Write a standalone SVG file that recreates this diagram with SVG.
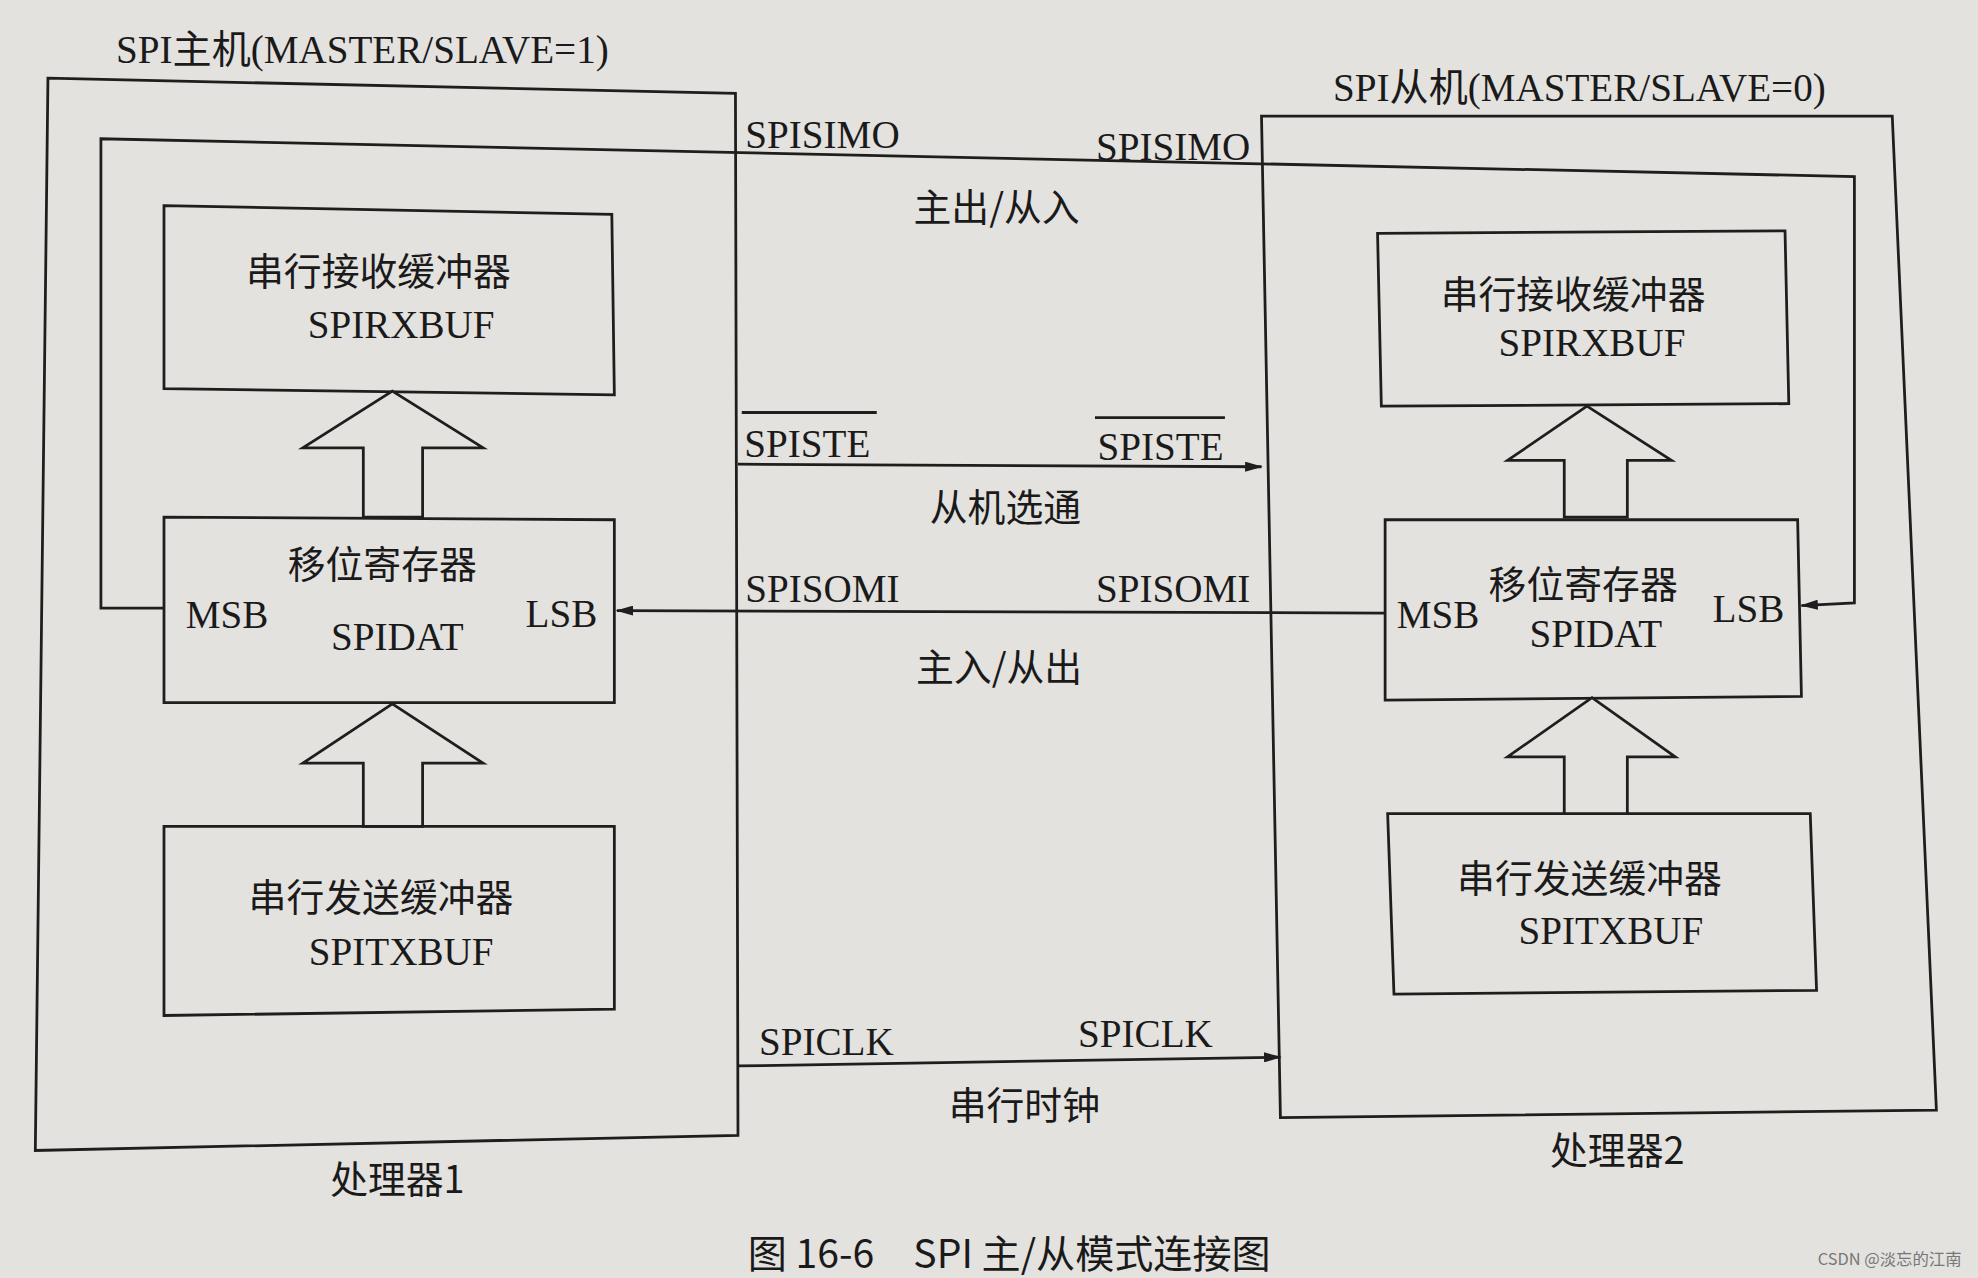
<svg xmlns="http://www.w3.org/2000/svg" width="1978" height="1278" viewBox="0 0 1978 1278">
<style>
.b{fill:none;stroke:#1e1e1e;stroke-width:2.2}
.t{font-family:"Liberation Serif","Noto Sans CJK SC",serif;font-size:31px;fill:#1a1a1a;text-anchor:middle}
.c{font-family:"Noto Sans CJK SC","Liberation Serif",serif;font-size:30px;fill:#1a1a1a;text-anchor:middle}
.ha{fill:#e4e2df;stroke:#1e1e1e;stroke-width:2.2}
</style>
<defs>
<marker id="ar" markerWidth="14" markerHeight="8" refX="13" refY="4" orient="auto" markerUnits="userSpaceOnUse"><path d="M0,0 L14,4 L0,8 Z" fill="#1e1e1e"/></marker>
</defs>
<rect width="1978" height="1278" fill="#e4e2df"/>
<g transform="scale(1.2615)">
<g id="master">
<polygon class="b" points="38,62 583,74 585,900 28,912"/>
<text class="t" x="92" y="50" style="text-anchor:start">SPI主机(MASTER/SLAVE=1)</text>
<text class="c" x="315" y="946">处理器1</text>
</g>
<g id="m_rx"><polygon class="b" points="130,163 485,170 487,313 130,308"/>
<text class="c" x="300" y="226">串行接收缓冲器</text><text class="t" x="318" y="268">SPIRXBUF</text></g>
<g id="m_sr"><polygon class="b" points="130,410 487,412 487,557 130,557"/>
<text class="c" x="303" y="458">移位寄存器</text><text class="t" x="180" y="498">MSB</text><text class="t" x="315" y="515">SPIDAT</text><text class="t" x="445" y="497">LSB</text></g>
<g id="m_tx"><polygon class="b" points="130,655 487,655 487,800 130,805"/>
<text class="c" x="302" y="722">串行发送缓冲器</text><text class="t" x="318" y="765">SPITXBUF</text></g>
<g id="slave">
<polygon class="b" points="1000,92 1500,92 1535,880 1015,886"/>
<text class="t" x="1252" y="80">SPI从机(MASTER/SLAVE=0)</text>
<text class="c" x="1282" y="923">处理器2</text>
</g>
<g id="s_rx"><polygon class="b" points="1092,185 1415,183 1418,320 1095,322"/>
<text class="c" x="1247" y="244">串行接收缓冲器</text><text class="t" x="1262" y="282">SPIRXBUF</text></g>
<g id="s_sr"><polygon class="b" points="1098,412 1425,412 1428,552 1098,555"/>
<text class="c" x="1255" y="474">移位寄存器</text><text class="t" x="1140" y="498">MSB</text><text class="t" x="1265" y="513">SPIDAT</text><text class="t" x="1386" y="493">LSB</text></g>
<g id="s_tx"><polygon class="b" points="1100,645 1435,645 1440,785 1105,788"/>
<text class="c" x="1260" y="707">串行发送缓冲器</text><text class="t" x="1277" y="748">SPITXBUF</text></g>
<g id="connectors">
<polygon class="ha" points="288,410 288,355 240,355 311,310 383,355 335,355 335,410"/>
<polygon class="ha" points="288,655 288,605 240,605 311,558 383,605 335,605 335,655"/>
<polygon class="ha" points="1240,410 1240,365 1195,365 1258,322 1325,365 1290,365 1290,410"/>
<polygon class="ha" points="1240,645 1240,600 1195,600 1262,553 1328,600 1290,600 1290,645"/>
<polyline class="b" points="130,482 80,482 80,110 1470,140 1470,478 1428,480" marker-end="url(#ar)"/>
<line class="b" x1="585" y1="368" x2="1000" y2="370" marker-end="url(#ar)"/>
<line class="b" x1="1098" y1="486" x2="489" y2="484" marker-end="url(#ar)"/>
<line class="b" x1="585" y1="845" x2="1015" y2="838" marker-end="url(#ar)"/>
<text class="t" x="652" y="117">SPISIMO</text><text class="t" x="930" y="127">SPISIMO</text>
<text class="c" x="790" y="175">主出/从入</text>
<text class="t" x="640" y="362">SPISTE</text><line class="b" x1="588" y1="327" x2="695" y2="327"/>
<text class="t" x="920" y="365">SPISTE</text><line class="b" x1="868" y1="331" x2="971" y2="331"/>
<text class="c" x="797" y="413">从机选通</text>
<text class="t" x="652" y="477">SPISOMI</text><text class="t" x="930" y="477">SPISOMI</text>
<text class="c" x="792" y="540">主入/从出</text>
<text class="t" x="655" y="836">SPICLK</text><text class="t" x="908" y="830">SPICLK</text>
<text class="c" x="812" y="887">串行时钟</text>
</g>
<text class="c" x="800" y="1005" style="font-size:31px">图 16-6　SPI 主/从模式连接图</text>
<text x="1555" y="1003" style="font-family:'Noto Sans CJK SC',sans-serif;font-size:13px;fill:#777;text-anchor:end">CSDN @淡忘的江南</text>
</g>
</svg>
